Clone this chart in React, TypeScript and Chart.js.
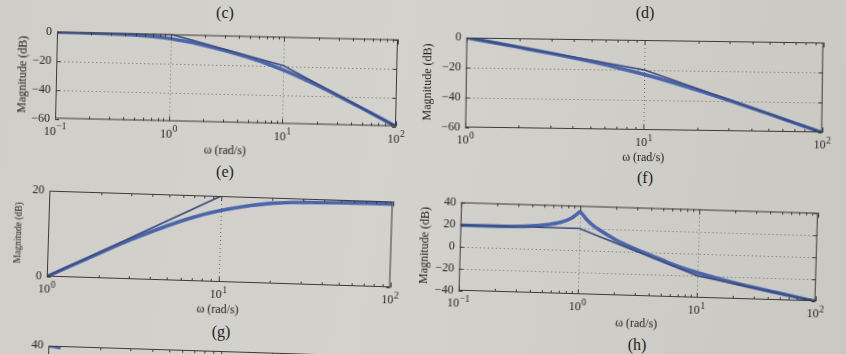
import React, { useEffect, useRef } from "react";
import { Chart, registerables } from "chart.js";
Chart.register(...registerables);

// ---------- data ----------
const cFreq = [0.1, 0.2, 0.3, 0.5, 0.7, 1, 1.5, 2, 3, 5, 7, 10, 15, 20, 30, 50, 70, 100];
const cMag = [-0.3, -0.5, -0.7, -1.2, -1.9, -3.1, -5.2, -7.2, -10.4, -15.1, -18.6, -23, -28.6, -33, -39.5, -48.1, -53.9, -60];
const cAsymFreq = [0.1, 1, 10, 100];
const cAsymMag = [0, 0, -20, -60];

const dFreq = [1, 1.5, 2, 3, 5, 7, 10, 15, 20, 30, 50, 70, 100];
const dMag = [-0.1, -3.6, -6.2, -9.9, -14.9, -18.6, -23, -28.6, -33, -39.5, -48.1, -53.9, -60];
const dAsymFreq = [1, 10, 100];
const dAsymMag = [0, -20, -60];

const eFreq = [1, 1.5, 2, 3, 5, 7, 10, 15, 20, 30, 50, 70, 100];
const eMag = [0, 3.4, 5.8, 9.1, 12.8, 14.9, 16.6, 18.0, 18.7, 19.1, 19.3, 19.4, 19.4];
const eAsymFreq = [1, 10, 100];
const eAsymMag = [0, 20, 20];

const fFreq = [0.1, 0.2, 0.3, 0.5, 0.7, 0.85, 0.95, 1.0, 1.05, 1.15, 1.3, 1.5, 2, 3, 5, 7, 10, 20, 50, 100];
const fMag = [19.2, 19.3, 19.6, 21.6, 24.6, 28.4, 32.5, 34.5, 32.5, 27.5, 22.5, 18.2, 10.6, 2.3, -6.6, -12.3, -17.2, -25.2, -33.8, -40];
const fAsymFreq = [0.1, 1, 10, 100];
const fAsymMag = [19.5, 19.5, -20, -40];

const gFreq = [1, 1.08, 1.18];
const gMag = [40, 39.3, 38.4];

const cYTicks = [0, -20, -40, -60];
const dYTicks = [0, -20, -40, -60];
const eYTicks = [20, 0];
const fYTicks = [40, 20, 0, -20, -40];
const gYTicks = [40];

const xTitle = "ω (rad/s)";
const yTitle = "Magnitude (dB)";

// ---------- drawing helpers ----------
const SERIF = '"Liberation Serif", "DejaVu Serif", serif';
const INK = "#242424";

function drawPow(ctx: CanvasRenderingContext2D, x: number, y: number, exp: string, size: number) {
  ctx.font = `${size}px ${SERIF}`;
  const bw = ctx.measureText("10").width;
  const es = size * 0.78;
  ctx.font = `${es}px ${SERIF}`;
  const ew = ctx.measureText(exp).width;
  const x0 = x - (bw + ew) / 2;
  ctx.textAlign = "left";
  ctx.textBaseline = "alphabetic";
  ctx.font = `${size}px ${SERIF}`;
  ctx.fillText("10", x0, y);
  ctx.font = `${es}px ${SERIF}`;
  ctx.fillText(exp, x0 + bw + 0.5, y - size * 0.42);
}

type PanelProps = {
  box: { left: number; top: number; w: number; h: number };
  pad: { l: number; r: number; t: number; b: number };
  rotate: number;
  xMin: number;
  xMax: number;
  yMin: number;
  yMax: number;
  yTicks: number[];
  yGrid: number[];
  xGrid: number[];
  freq: number[];
  mag: number[];
  aFreq?: number[];
  aMag?: number[];
  yTitleSize: number;
  yTitleOffset: number;
  showX: boolean;
  clipLeft?: number;
};

function Panel(p: PanelProps) {
  const ref = useRef<HTMLCanvasElement | null>(null);
  const extra = p.clipLeft ?? 0;
  useEffect(() => {
    if (!ref.current) return;
    const plugin = {
      id: "bodeFrame",
      beforeDatasetsDraw(chart: any) {
        const { ctx, chartArea: a, scales } = chart;
        const xs = scales.x, ys = scales.y;
        ctx.save();
        ctx.strokeStyle = "#6a6a6a";
        ctx.lineWidth = 1;
        ctx.setLineDash([1, 3]);
        for (const g of p.yGrid) {
          const y = Math.round(ys.getPixelForValue(g)) + 0.5;
          ctx.beginPath();
          ctx.moveTo(a.left, y);
          ctx.lineTo(a.right, y);
          ctx.stroke();
        }
        for (const g of p.xGrid) {
          const x = Math.round(xs.getPixelForValue(g)) + 0.5;
          ctx.beginPath();
          ctx.moveTo(x, a.top);
          ctx.lineTo(x, a.bottom);
          ctx.stroke();
        }
        ctx.restore();
      },
      afterDraw(chart: any) {
        const { ctx, chartArea: a, scales } = chart;
        const xs = scales.x, ys = scales.y;
        ctx.save();
        ctx.strokeStyle = "#3a3a3a";
        ctx.lineWidth = 1;
        ctx.strokeRect(a.left + 0.5, a.top + 0.5, a.right - a.left - 1, a.bottom - a.top - 1);
        ctx.beginPath();
        for (let d = p.xMin; d < p.xMax * 1.0001; d *= 10) {
          for (let m = 1; m <= 9; m++) {
            const v = d * m;
            if (v > p.xMax * 1.0001) break;
            const x = Math.round(xs.getPixelForValue(v)) + 0.5;
            const len = m === 1 ? 5 : 3;
            ctx.moveTo(x, a.bottom);
            ctx.lineTo(x, a.bottom - len);
            ctx.moveTo(x, a.top);
            ctx.lineTo(x, a.top + len);
          }
        }
        for (const t of p.yTicks) {
          const y = Math.round(ys.getPixelForValue(t)) + 0.5;
          ctx.moveTo(a.left, y);
          ctx.lineTo(a.left + 4, y);
          ctx.moveTo(a.right, y);
          ctx.lineTo(a.right - 4, y);
        }
        ctx.stroke();
        ctx.fillStyle = INK;
        ctx.font = `12px ${SERIF}`;
        ctx.textAlign = "right";
        ctx.textBaseline = "middle";
        for (const t of p.yTicks) {
          const y = ys.getPixelForValue(t);
          ctx.fillText(t < 0 ? "\u2212" + Math.abs(t) : String(t), a.left - 5, y);
        }
        if (p.showX) {
          for (let d = p.xMin; d < p.xMax * 1.0001; d *= 10) {
            const e = Math.round(Math.log10(d));
            const x = xs.getPixelForValue(d);
            drawPow(ctx, x, a.bottom + 16, e < 0 ? "\u2212" + Math.abs(e) : String(e), 12);
          }
          ctx.font = `12px ${SERIF}`;
          ctx.textAlign = "center";
          ctx.textBaseline = "alphabetic";
          ctx.fillText(xTitle, (a.left + a.right) / 2, a.bottom + 31);
        }
        ctx.translate(a.left - p.yTitleOffset, (a.top + a.bottom) / 2);
        ctx.rotate(-Math.PI / 2);
        ctx.font = `${p.yTitleSize}px ${SERIF}`;
        ctx.textAlign = "center";
        ctx.textBaseline = "middle";
        ctx.fillText(yTitle, 0, 0);
        ctx.restore();
      },
    };
    const datasets: any[] = [];
    if (p.aFreq && p.aMag) {
      datasets.push({
        data: p.aFreq.map((f, i) => ({ x: f, y: p.aMag![i] })),
        borderColor: "#3c4a7a",
        borderWidth: 1.6,
        pointRadius: 0,
        tension: 0,
      });
    }
    datasets.push({
      data: p.freq.map((f, i) => ({ x: f, y: p.mag[i] })),
      borderColor: "#4a66ab",
      borderWidth: 3.6,
      pointRadius: 0,
      cubicInterpolationMode: "monotone",
    });
    const chart = new Chart(ref.current, {
      type: "line",
      data: { datasets },
      options: {
        animation: false,
        responsive: false,
        events: [],
        layout: { padding: { left: p.pad.l + extra, right: p.pad.r, top: p.pad.t, bottom: p.pad.b } },
        plugins: { legend: { display: false }, tooltip: { enabled: false } },
        scales: {
          x: { type: "logarithmic", min: p.xMin, max: p.xMax, display: false },
          y: { type: "linear", min: p.yMin, max: p.yMax, display: false },
        },
      },
      plugins: [plugin],
    } as any);
    return () => chart.destroy();
  }, []);
  const w = p.box.w + extra;
  const ox = extra + p.pad.l + (p.box.w - p.pad.l - p.pad.r) / 2;
  const oy = p.pad.t + (p.box.h - p.pad.t - p.pad.b) / 2;
  return (
    <div
      style={{
        position: "absolute",
        left: p.box.left - extra,
        top: p.box.top,
        width: w,
        height: p.box.h,
        transform: `rotate(${p.rotate}deg)`,
        transformOrigin: `${ox}px ${oy}px`,
      }}
    >
      <canvas ref={ref} width={w} height={p.box.h} style={{ display: "block" }} />
    </div>
  );
}

function Letter({ x, y, t }: { x: number; y: number; t: string }) {
  return (
    <div
      style={{
        position: "absolute",
        left: x - 20,
        top: y - 10,
        width: 40,
        textAlign: "center",
        font: `16px ${SERIF}`,
        color: INK,
        lineHeight: "20px",
      }}
    >
      {t}
    </div>
  );
}

export default function App() {
  return (
    <div
      style={{
        position: "fixed",
        left: 0,
        top: 0,
        width: 846,
        height: 354,
        overflow: "hidden",
        background: "linear-gradient(100deg, #cfcec9 0%, #d3d2cd 45%, #c9c8c2 100%)",
      }}
    >
      <Letter x={225} y={13} t="(c)" />
      <Letter x={645} y={13} t="(d)" />
      <Letter x={225} y={172} t="(e)" />
      <Letter x={645} y={178} t="(f)" />
      <Letter x={221} y={332} t="(g)" />
      <Letter x={637} y={345} t="(h)" />
      <Panel
        box={{ left: 0, top: 0, w: 420, h: 170 }}
        pad={{ l: 56, r: 23, t: 35.5, b: 47.5 }}
        rotate={1.3}
        xMin={0.1}
        xMax={100}
        yMin={-60}
        yMax={0}
        yTicks={cYTicks}
        yGrid={[-20, -40]}
        xGrid={[1, 10]}
        freq={cFreq}
        mag={cMag}
        aFreq={cAsymFreq}
        aMag={cAsymMag}
        yTitleSize={12}
        yTitleOffset={33}
        showX={true}
      />
      <Panel
        box={{ left: 420, top: 0, w: 426, h: 170 }}
        pad={{ l: 45.75, r: 23.25, t: 40, b: 40 }}
        rotate={0.8}
        xMin={1}
        xMax={100}
        yMin={-60}
        yMax={0}
        yTicks={dYTicks}
        yGrid={[-20, -40]}
        xGrid={[10]}
        freq={dFreq}
        mag={dMag}
        aFreq={dAsymFreq}
        aMag={dAsymMag}
        yTitleSize={12}
        yTitleOffset={38}
        showX={true}
      />
      <Panel
        box={{ left: 0, top: 170, w: 420, h: 184 }}
        pad={{ l: 48, r: 28.5, t: 26, b: 72 }}
        rotate={1.8}
        xMin={1}
        xMax={100}
        yMin={0}
        yMax={20}
        yTicks={eYTicks}
        yGrid={[]}
        xGrid={[10]}
        freq={eFreq}
        mag={eMag}
        aFreq={eAsymFreq}
        aMag={eAsymMag}
        yTitleSize={9.5}
        yTitleOffset={30}
        showX={true}
      />
      <Panel
        box={{ left: 420, top: 170, w: 426, h: 184 }}
        pad={{ l: 39.75, r: 29.25, t: 37.5, b: 58 }}
        rotate={1.7}
        xMin={0.1}
        xMax={100}
        yMin={-40}
        yMax={40}
        yTicks={fYTicks}
        yGrid={[20, 0, -20]}
        xGrid={[1, 10]}
        freq={fFreq}
        mag={fMag}
        aFreq={fAsymFreq}
        aMag={fAsymMag}
        yTitleSize={12}
        yTitleOffset={35}
        showX={true}
        clipLeft={3}
      />
      <Panel
        box={{ left: 0, top: 345, w: 420, h: 100 }}
        pad={{ l: 47, r: 28, t: 6, b: 10 }}
        rotate={1.8}
        xMin={1}
        xMax={100}
        yMin={-40}
        yMax={40}
        yTicks={gYTicks}
        yGrid={[]}
        xGrid={[]}
        freq={gFreq}
        mag={gMag}
        yTitleSize={9.5}
        yTitleOffset={30}
        showX={false}
      />
    </div>
  );
}
